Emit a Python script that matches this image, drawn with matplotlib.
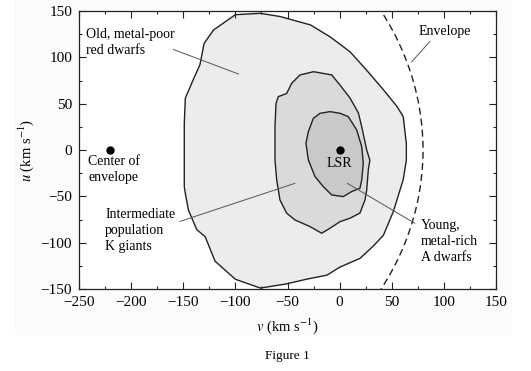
import numpy as np
import matplotlib
matplotlib.use("Agg")
import matplotlib.pyplot as plt
from matplotlib.patches import Polygon, Circle, Rectangle

plt.rcParams['font.family'] = ['Liberation Serif', 'DejaVu Serif']
plt.rcParams['mathtext.fontset'] = 'stix'

# velocity-space contours (v, u) in km/s
outer_v = [-100, -76, -57, -28, -9, 10, 26, 42, 55, 61, 64, 64, 61, 51.5, 42, 32,
           19.5, 0, -12, -32, -51, -76, -100, -119.5, -129, -137, -145, -148,
           -149, -149, -148, -140, -134, -130, -121]
outer_u = [146, 147.5, 144, 135, 122, 106, 86, 65, 47, 36, 7, -11, -32, -66.5, -92,
           -104, -117, -126.5, -135, -139.5, -144.5, -149, -139.5, -120, -93.5,
           -86, -65, -47, -39.5, 29, 56, 77, 92, 115, 129.5]

mid_v = [-25, -7.6, 0.4, 10, 18, 21.2, 26, 29, 27.5, 26, 24.3, 19.5, 10, 0.4, -9.2,
         -17.2, -28.4, -42.8, -50.8, -57.2, -60.4, -62, -62, -61, -58.8, -50.8,
         -46, -38]
mid_u = [84.5, 81, 70, 56, 40, 25, 0, -11, -21.5, -43, -54, -68, -73.6, -77.3, -84.4,
         -89.8, -82.7, -75.5, -68.2, -54, -32, -10.7, 25, 50.4, 57.6, 61, 72, 81]

inner_v = [-9.2, 0.4, 8.3, 16.4, 21.2, 22.7, 21.2, 19.5, 11.5, 3.5, -7.6, -15.7,
           -23.6, -30, -32.3, -30, -25.2, -18.8]
inner_u = [41.4, 39.6, 36, 21.6, 3.6, -14.3, -32.3, -41.3, -44.9, -50.3, -48.5,
           -39.5, -28.7, -10.7, 7.3, 19.8, 34.2, 39.6]

envelope_center = (-220, 0)
envelope_radius = 300
lsr = (0, 0)

fig = plt.figure(figsize=(5.31, 3.71), dpi=100)
fig.patches.append(Rectangle((15 / 531, 1 - 335 / 371), 497 / 531, 335 / 371,
                             transform=fig.transFigure, facecolor='#fbfbfb',
                             edgecolor='none', zorder=-10))
ax = fig.add_axes([79 / 531, 1 - 289 / 371, 417 / 531, 278 / 371])
ax.set_facecolor('white')

for vs, us, col in [(outer_v, outer_u, '#ececec'),
                    (mid_v, mid_u, '#dadada'),
                    (inner_v, inner_u, '#c9c9c9')]:
    ax.add_patch(Polygon(np.column_stack([vs, us]), closed=True, facecolor=col,
                         edgecolor='#222222', linewidth=1.0))

env = Circle(envelope_center, envelope_radius, fill=False, edgecolor='#222222',
             linewidth=1.0, linestyle=(0, (5, 3)))
ax.add_patch(env)

ax.plot(*envelope_center, 'o', color='black', markersize=5)
ax.plot(*lsr, 'o', color='black', markersize=5)

fs = 10
lc = '#555555'
ax.text(-243, 132, 'Old, metal-poor\nred dwarfs', fontsize=fs, va='top', linespacing=1.3)
ax.plot([-159.5, -97], [108.5, 82], color=lc, lw=0.7)
ax.text(-241, -5, 'Center of\nenvelope', fontsize=fs, va='top', linespacing=1.3)
ax.text(-225, -63, 'Intermediate\npopulation\nK giants', fontsize=fs, va='top', linespacing=1.3)
ax.plot([-153, -43], [-77, -36], color=lc, lw=0.7)
ax.text(0, -15, 'LSR', fontsize=fs, ha='center', va='center')
ax.text(78, -74, 'Young,\nmetal-rich\nA dwarfs', fontsize=fs, va='top', linespacing=1.3)
ax.plot([7.4, 72], [-36, -79], color=lc, lw=0.7)
ax.text(76, 128, 'Envelope', fontsize=fs, va='center')
ax.plot([86.5, 69], [117, 95], color=lc, lw=0.7)

ax.set_xlim(-250, 150)
ax.set_ylim(-150, 150)
ax.set_xticks(np.arange(-250, 151, 50))
ax.set_yticks(np.arange(-150, 151, 50))
ax.set_xticks(np.arange(-250, 151, 25), minor=True)
ax.set_yticks(np.arange(-150, 151, 25), minor=True)
ax.tick_params(which='both', direction='in', top=True, right=True, labelsize=11,
               width=0.8, color='#222222')
ax.tick_params(which='major', length=5, pad=5)
ax.tick_params(which='minor', length=2.5)
for s in ax.spines.values():
    s.set_linewidth(0.9)
    s.set_color('#222222')

ax.set_xlabel(r'$v$ (km s$^{-1}$)', fontsize=10.5, labelpad=5)
ax.set_ylabel(r'$u$ (km s$^{-1}$)', fontsize=10.5, labelpad=3)

fig.text(287 / 531, 1 - 356 / 371, 'Figure 1', fontsize=9.5, ha='center', va='center')

fig.savefig('out.png', dpi=100)
